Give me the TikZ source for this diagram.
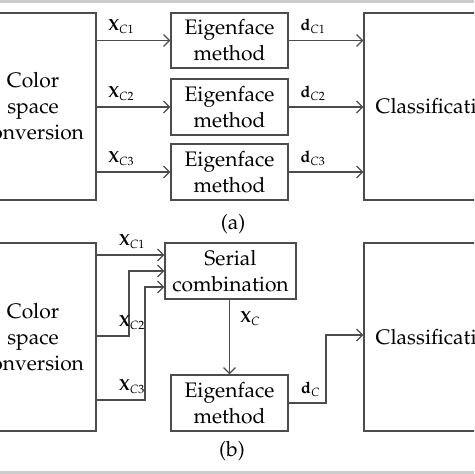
\documentclass[tikz,border=0pt]{standalone}
\usepackage[T1]{fontenc}
\usepackage{mathpazo}
\usetikzlibrary{arrows.meta, positioning}

\begin{document}
\begin{tikzpicture}[x=0.5pt, y=-0.5pt,
    box/.style={draw=black!70, line width=0.6pt, inner sep=0pt, align=center, font=\fontsize{10.5}{13}\selectfont},
    flow/.style={draw=black!70, line width=0.6pt, -{Straight Barb[length=3pt, width=6pt]}},
    lab/.style={inner sep=0pt, font=\footnotesize}]
    \useasboundingbox (0,0) rectangle (474,474);
    \clip (0,0) rectangle (474,474);
    \fill[black!20] (0,0) rectangle (474,3);
    \fill[black!20] (0,471) rectangle (474,474);
    % (a)
    \node[box, minimum width=63pt, minimum height=93.5pt] (convA) at (33,106.5) {Color\\space\\conversion};
    \node[box, minimum width=58.5pt, minimum height=27.5pt] (eigA1) at (229.5,40.5) {Eigenface\\method};
    \node[box, minimum width=58.5pt, minimum height=28pt] (eigA2) at (229.5,107) {Eigenface\\method};
    \node[box, minimum width=58.5pt, minimum height=28pt] (eigA3) at (229.5,172) {Eigenface\\method};
    \node[box, minimum width=74pt, minimum height=93.5pt] (clsA) at (438,106.5) {Classification};
    \node[font=\fontsize{10.5}{13}\selectfont, inner sep=0pt] (capA) at (233,224) {(a)};
    \foreach \i in {1,2,3} {
        \draw[flow] (convA.east |- eigA\i.west) -- (eigA\i.west) node[lab, pos=0.15, above right=3pt and 0pt] {$\mathbf{X}_{C\i}$};
        \draw[flow] (eigA\i.east) -- (clsA.west |- eigA\i.east) node[lab, pos=0.15, above right=3pt and 0pt] {$\mathbf{d}_{C\i}$};
    }
    % (b)
    \node[box, minimum width=63pt, minimum height=94pt] (convB) at (33,337) {Color\\space\\conversion};
    \node[box, minimum width=65.5pt, minimum height=28pt] (ser) at (230.5,271) {Serial\\combination};
    \node[box, minimum width=58.5pt, minimum height=28pt] (eigB) at (229.5,403) {Eigenface\\method};
    \node[box, minimum width=74pt, minimum height=94pt] (clsB) at (438,337) {Classification};
    \node[font=\fontsize{10.5}{13}\selectfont, inner sep=0pt] (capB) at (232,451) {(b)};
    \coordinate (in1) at (ser.west |- 0,255);
    \coordinate (in2) at (ser.west |- 0,271);
    \coordinate (in3) at (ser.west |- 0,287);
    \coordinate (out1) at (convB.east |- 0,255);
    \coordinate (out2) at (convB.east |- 0,336);
    \coordinate (out3) at (convB.east |- 0,400);
    \draw[flow] (out1) -- (in1);
    \draw[flow] (out2) -| (129,271) -- (in2);
    \draw[flow] (out3) -| (145,287) -- (in3);
    \node[lab, above right=3pt and 11pt of out1] (xc1) {$\mathbf{X}_{C1}$};
    \node[lab, above right=3pt and 11pt of out2] (xc2) {$\mathbf{X}_{C2}$};
    \node[lab, above right=3pt and 11pt of out3] (xc3) {$\mathbf{X}_{C3}$};
    \draw[flow] (ser.south -| eigB.north) -- (eigB.north) node[lab, pos=0.25, right=5pt] {$\mathbf{X}_{C}$};
    \draw[flow] (eigB.east) -| (326,335) -- (clsB.west |- 0,335);
    \node[lab, above right=3pt and 6pt of eigB.east] (dc) {$\mathbf{d}_{C}$};
\end{tikzpicture}
\end{document}
